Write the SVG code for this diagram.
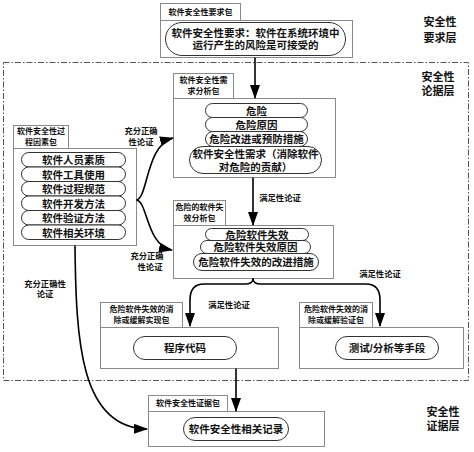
<svg xmlns="http://www.w3.org/2000/svg" width="474" height="452" viewBox="0 0 474 452">
<style>
text{font-family:"Liberation Sans","Noto Sans CJK SC",sans-serif;fill:#111;text-anchor:middle;dominant-baseline:central}
.box{fill:#fff;stroke:#8a8a8a;stroke-width:1}
.pill{fill:#fff;stroke:#333;stroke-width:1}
.t{font-size:10.5px;font-weight:bold}
.tab{font-size:8px;font-weight:bold}
.lbl{font-size:8.3px;font-weight:bold}
.layer{font-size:11px;font-weight:bold}
.con{fill:none;stroke:#000;stroke-width:1.6}
.frame{fill:none;stroke:#555;stroke-width:1;stroke-dasharray:6 2 1.5 2}
</style>
<defs>
<marker id="ah" markerUnits="userSpaceOnUse" markerWidth="14" markerHeight="10" refX="13" refY="5" orient="auto">
<path d="M0,0 L14,5 L0,10 Z" fill="#000"/>
</marker>
</defs>
<rect class="frame" x="3.5" y="62.5" width="465" height="318"/>
<g id="layers">
<text class="layer" x="440" y="22">安全性</text>
<text class="layer" x="440" y="38">要求层</text>
<text class="layer" x="438" y="77">安全性</text>
<text class="layer" x="438" y="91">论据层</text>
<text class="layer" x="443" y="412">安全性</text>
<text class="layer" x="443" y="426">证据层</text>
</g>
<g id="req">
<rect class="box" x="160.5" y="3.5" width="80" height="17"/>
<text class="tab" x="200.5" y="12">软件安全性要求包</text>
<rect class="box" x="160.5" y="20.5" width="192" height="37"/>
<rect class="pill" x="165.5" y="22.5" width="180" height="33" rx="16.5"/>
<text class="t" x="255.5" y="33">软件安全性要求：软件在系统环境中</text>
<text class="t" x="255.5" y="45">运行产生的风险是可接受的</text>
</g>
<g id="analysis">
<rect class="box" x="173.5" y="73.5" width="60" height="25"/>
<text class="tab" x="203.5" y="80.5">软件安全性需</text>
<text class="tab" x="203.5" y="91.5">求分析包</text>
<rect class="box" x="173.5" y="98.5" width="162" height="79"/>
<rect class="pill" x="205.5" y="103.5" width="102" height="14" rx="7"/>
<text class="t" x="256.5" y="110.5">危险</text>
<rect class="pill" x="205.5" y="117.5" width="102" height="14" rx="7"/>
<text class="t" x="256.5" y="124.5">危险原因</text>
<rect class="pill" x="205.5" y="131.5" width="102" height="15" rx="7.5"/>
<text class="t" x="256.5" y="139">危险改进或预防措施</text>
<rect class="pill" x="189.5" y="146.5" width="132" height="27" rx="13.5"/>
<text class="t" x="255.5" y="154">软件安全性需求（消除软件</text>
<text class="t" x="255.5" y="166.5">对危险的贡献）</text>
</g>
<g id="process">
<rect class="box" x="13.5" y="125.5" width="55" height="23"/>
<text class="tab" x="41" y="131.5">软件安全性过</text>
<text class="tab" x="41" y="142.5">程因素包</text>
<rect class="box" x="13.5" y="148.5" width="123" height="97"/>
<rect class="pill" x="21.5" y="152.5" width="104" height="14.5" rx="7.25"/>
<text class="t" x="73.5" y="160">软件人员素质</text>
<rect class="pill" x="21.5" y="167" width="104" height="14.5" rx="7.25"/>
<text class="t" x="73.5" y="174.5">软件工具使用</text>
<rect class="pill" x="21.5" y="181.5" width="104" height="14.5" rx="7.25"/>
<text class="t" x="73.5" y="189">软件过程规范</text>
<rect class="pill" x="21.5" y="196" width="104" height="14.5" rx="7.25"/>
<text class="t" x="73.5" y="203.5">软件开发方法</text>
<rect class="pill" x="21.5" y="210.5" width="104" height="14.5" rx="7.25"/>
<text class="t" x="73.5" y="218">软件验证方法</text>
<rect class="pill" x="21.5" y="225" width="104" height="14.5" rx="7.25"/>
<text class="t" x="73.5" y="232.5">软件相关环境</text>
</g>
<g id="failure">
<rect class="box" x="173.5" y="200.5" width="52" height="25"/>
<text class="tab" x="199.5" y="207">危险的软件失</text>
<text class="tab" x="199.5" y="218.5">效分析包</text>
<rect class="box" x="173.5" y="225.5" width="160" height="53"/>
<rect class="pill" x="205.5" y="228.5" width="103" height="12" rx="6"/>
<text class="t" x="257" y="234.5">危险软件失效</text>
<rect class="pill" x="200.5" y="240.5" width="110" height="13" rx="6.5"/>
<text class="t" x="255.5" y="247">危险软件失效原因</text>
<rect class="pill" x="193.5" y="253.5" width="125" height="17" rx="8.5"/>
<text class="t" x="256" y="262">危险软件失效的改进措施</text>
</g>
<g id="impl">
<rect class="box" x="100.5" y="302.5" width="82" height="25"/>
<text class="tab" x="141.5" y="309">危险软件失效的消</text>
<text class="tab" x="141.5" y="320.5">除或缓解实现包</text>
<rect class="box" x="100.5" y="327.5" width="178" height="41"/>
<rect class="pill" x="133.5" y="336.5" width="103" height="23" rx="11.5"/>
<text class="t" x="185" y="348">程序代码</text>
</g>
<g id="verify">
<rect class="box" x="299.5" y="302.5" width="73" height="25"/>
<text class="tab" x="336" y="309">危险软件失效的消</text>
<text class="tab" x="336" y="320.5">除或缓解验证包</text>
<rect class="box" x="299.5" y="327.5" width="164" height="41"/>
<rect class="pill" x="335.5" y="336.5" width="103" height="23" rx="11.5"/>
<text class="t" x="387" y="348">测试/分析等手段</text>
</g>
<g id="evidence">
<rect class="box" x="148.5" y="395.5" width="79" height="16"/>
<text class="tab" x="188" y="403.5">软件安全性证据包</text>
<rect class="box" x="148.5" y="411.5" width="176" height="35"/>
<rect class="pill" x="183.5" y="417.5" width="105" height="23" rx="11.5"/>
<text class="t" x="236" y="429">软件安全性相关记录</text>
</g>
<g id="connectors">
<path class="con" d="M255,57.5 L255,98" marker-end="url(#ah)"/>
<path class="con" d="M253,177.5 L253,225" marker-end="url(#ah)"/>
<path class="con" d="M136.5,200 C148,198 146,145 173,138" marker-end="url(#ah)"/>
<path class="con" d="M136.5,200 C148,202 146,245 172,250" marker-end="url(#ah)"/>
<path class="con" d="M75,245.5 C76,340 80,428 147,429" marker-end="url(#ah)"/>
<path class="con" d="M253,278.5 Q253,284 245,284 L204,284 Q190,284 190,300 L190,326" marker-end="url(#ah)"/>
<path class="con" d="M253,278.5 Q253,284 261,284 L366,284 Q380,284 380,300 L380,326" marker-end="url(#ah)"/>
<path class="con" d="M236,368.5 L236,411" marker-end="url(#ah)"/>
</g>
<g id="labels">
<text class="lbl" x="141" y="131">充分正确</text>
<text class="lbl" x="141" y="142">性论证</text>
<text class="lbl" x="147" y="256">充分正确</text>
<text class="lbl" x="150" y="267">性论证</text>
<text class="lbl" x="45" y="284">充分正确性</text>
<text class="lbl" x="45" y="294">论证</text>
<text class="lbl" x="280" y="198">满足性论证</text>
<text class="lbl" x="380" y="274">满足性论证</text>
<text class="lbl" x="229" y="305">满足性论证</text>
</g>
</svg>
